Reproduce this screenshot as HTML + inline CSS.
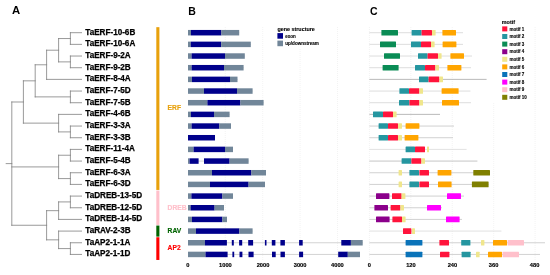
<!DOCTYPE html>
<html lang="en"><head><meta charset="utf-8"><title>Figure</title>
<style>html,body{margin:0;padding:0;background:#fff}body{width:550px;height:275px;overflow:hidden}svg{display:block;font-family:"Liberation Sans",Arial,sans-serif;font-weight:bold}</style></head><body>
<svg width="550" height="275" viewBox="0 0 550 275">
<rect width="550" height="275" fill="#fff"/>
<g stroke="#e0e0e0" stroke-width="0.5" stroke-dasharray="0.8 1.2" fill="none">
<line x1="225.3" y1="27" x2="225.3" y2="260"/>
<line x1="262.7" y1="27" x2="262.7" y2="260"/>
<line x1="300.1" y1="27" x2="300.1" y2="260"/>
<line x1="337.5" y1="27" x2="337.5" y2="260"/>
<line x1="369.4" y1="27" x2="369.4" y2="260"/>
<line x1="410.8" y1="27" x2="410.8" y2="260"/>
<line x1="452.3" y1="27" x2="452.3" y2="260"/>
<line x1="493.7" y1="27" x2="493.7" y2="260"/>
<line x1="535.1" y1="27" x2="535.1" y2="260"/>
</g>
<text x="12" y="13.7" font-size="11.3" fill="#000">A</text>
<text x="188.2" y="14.9" font-size="10.5" fill="#000">B</text>
<text x="369.9" y="14.9" font-size="10.5" fill="#000">C</text>
<g stroke="#808080" stroke-width="0.8" fill="none" stroke-linecap="square">
<line x1="70.40" y1="32.70" x2="81.50" y2="32.70"/>
<line x1="70.40" y1="44.37" x2="81.50" y2="44.37"/>
<line x1="70.40" y1="32.70" x2="70.40" y2="44.37"/>
<line x1="70.40" y1="56.04" x2="81.50" y2="56.04"/>
<line x1="70.40" y1="67.71" x2="81.50" y2="67.71"/>
<line x1="70.40" y1="56.04" x2="70.40" y2="67.71"/>
<line x1="58.60" y1="38.54" x2="58.60" y2="61.88"/>
<line x1="58.60" y1="38.54" x2="70.40" y2="38.54"/>
<line x1="58.60" y1="61.88" x2="70.40" y2="61.88"/>
<line x1="46.60" y1="79.38" x2="81.50" y2="79.38"/>
<line x1="46.60" y1="50.21" x2="46.60" y2="79.38"/>
<line x1="46.60" y1="50.21" x2="58.60" y2="50.21"/>
<line x1="70.40" y1="91.05" x2="81.50" y2="91.05"/>
<line x1="70.40" y1="102.72" x2="81.50" y2="102.72"/>
<line x1="70.40" y1="91.05" x2="70.40" y2="102.72"/>
<line x1="35.20" y1="64.79" x2="35.20" y2="96.89"/>
<line x1="35.20" y1="64.79" x2="46.60" y2="64.79"/>
<line x1="35.20" y1="96.89" x2="70.40" y2="96.89"/>
<line x1="70.40" y1="126.06" x2="81.50" y2="126.06"/>
<line x1="70.40" y1="137.73" x2="81.50" y2="137.73"/>
<line x1="70.40" y1="126.06" x2="70.40" y2="137.73"/>
<line x1="58.60" y1="114.39" x2="81.50" y2="114.39"/>
<line x1="58.60" y1="114.39" x2="58.60" y2="131.90"/>
<line x1="58.60" y1="131.90" x2="70.40" y2="131.90"/>
<line x1="23.40" y1="80.84" x2="23.40" y2="123.14"/>
<line x1="23.40" y1="80.84" x2="35.20" y2="80.84"/>
<line x1="23.40" y1="123.14" x2="58.60" y2="123.14"/>
<line x1="70.40" y1="149.40" x2="81.50" y2="149.40"/>
<line x1="70.40" y1="161.07" x2="81.50" y2="161.07"/>
<line x1="70.40" y1="149.40" x2="70.40" y2="161.07"/>
<line x1="70.40" y1="172.74" x2="81.50" y2="172.74"/>
<line x1="70.40" y1="184.41" x2="81.50" y2="184.41"/>
<line x1="70.40" y1="172.74" x2="70.40" y2="184.41"/>
<line x1="58.60" y1="155.24" x2="58.60" y2="178.58"/>
<line x1="58.60" y1="155.24" x2="70.40" y2="155.24"/>
<line x1="58.60" y1="178.58" x2="70.40" y2="178.58"/>
<line x1="70.40" y1="196.08" x2="81.50" y2="196.08"/>
<line x1="70.40" y1="207.75" x2="81.50" y2="207.75"/>
<line x1="70.40" y1="196.08" x2="70.40" y2="207.75"/>
<line x1="58.60" y1="219.42" x2="81.50" y2="219.42"/>
<line x1="58.60" y1="201.91" x2="58.60" y2="219.42"/>
<line x1="58.60" y1="201.91" x2="70.40" y2="201.91"/>
<line x1="70.40" y1="242.76" x2="81.50" y2="242.76"/>
<line x1="70.40" y1="254.43" x2="81.50" y2="254.43"/>
<line x1="70.40" y1="242.76" x2="70.40" y2="254.43"/>
<line x1="58.60" y1="231.09" x2="81.50" y2="231.09"/>
<line x1="58.60" y1="231.09" x2="58.60" y2="248.59"/>
<line x1="58.60" y1="248.59" x2="70.40" y2="248.59"/>
<line x1="46.60" y1="210.67" x2="46.60" y2="239.84"/>
<line x1="46.60" y1="210.67" x2="58.60" y2="210.67"/>
<line x1="46.60" y1="239.84" x2="58.60" y2="239.84"/>
<line x1="11.80" y1="101.99" x2="11.80" y2="225.25"/>
<line x1="11.80" y1="101.99" x2="23.40" y2="101.99"/>
<line x1="11.80" y1="166.91" x2="58.60" y2="166.91"/>
<line x1="11.80" y1="225.25" x2="46.60" y2="225.25"/>
<line x1="6.20" y1="163.62" x2="11.80" y2="163.62"/>
</g>
<g font-size="8.15" fill="#000" stroke="#000" stroke-width="0.25">
<text x="85.3" y="34.65">TaERF-10-6B</text>
<text x="85.3" y="46.32">TaERF-10-6A</text>
<text x="85.3" y="57.99">TaERF-9-2A</text>
<text x="85.3" y="69.66">TaERF-9-2B</text>
<text x="85.3" y="81.33">TaERF-8-4A</text>
<text x="85.3" y="93.00">TaERF-7-5D</text>
<text x="85.3" y="104.67">TaERF-7-5B</text>
<text x="85.3" y="116.34">TaERF-4-6B</text>
<text x="85.3" y="128.01">TaERF-3-3A</text>
<text x="85.3" y="139.68">TaERF-3-3B</text>
<text x="85.3" y="151.35">TaERF-11-4A</text>
<text x="85.3" y="163.02">TaERF-5-4B</text>
<text x="85.3" y="174.69">TaERF-6-3A</text>
<text x="85.3" y="186.36">TaERF-6-3D</text>
<text x="85.3" y="198.03">TaDREB-13-5D</text>
<text x="85.3" y="209.70">TaDREB-12-5D</text>
<text x="85.3" y="221.37">TaDREB-14-5D</text>
<text x="85.3" y="233.04">TaRAV-2-3B</text>
<text x="85.3" y="244.71">TaAP2-1-1A</text>
<text x="85.3" y="256.38">TaAP2-1-1D</text>
</g>
<rect x="156.3" y="27.17" width="3.1" height="162.78" fill="#E8A10C"/>
<text x="167.6" y="110.36" font-size="6.7" fill="#E8A10C" stroke="#E8A10C" stroke-width="0.15">ERF</text>
<rect x="156.3" y="190.55" width="3.1" height="34.41" fill="#FFC0CB"/>
<text x="167.6" y="209.55" font-size="6.7" fill="#FFC0CB" stroke="#FFC0CB" stroke-width="0.15">DREB</text>
<rect x="156.3" y="225.56" width="3.1" height="11.07" fill="#006400"/>
<text x="167.6" y="232.89" font-size="6.7" fill="#006400" stroke="#006400" stroke-width="0.15">RAV</text>
<rect x="156.3" y="237.23" width="3.1" height="22.74" fill="#FF0000"/>
<text x="167.6" y="250.40" font-size="6.7" fill="#FF0000" stroke="#FF0000" stroke-width="0.15">AP2</text>
<line x1="188" y1="32.70" x2="239.2" y2="32.70" stroke="#b5b5b5" stroke-width="0.6"/>
<rect x="188" y="29.95" width="3.00" height="5.5" fill="#718699"/>
<rect x="191" y="29.95" width="30.40" height="5.5" fill="#00008B"/>
<rect x="221.4" y="29.95" width="17.80" height="5.5" fill="#718699"/>
<line x1="188" y1="44.37" x2="250.8" y2="44.37" stroke="#b5b5b5" stroke-width="0.6"/>
<rect x="188" y="41.62" width="2.80" height="5.5" fill="#718699"/>
<rect x="190.8" y="41.62" width="30.40" height="5.5" fill="#00008B"/>
<rect x="221.2" y="41.62" width="29.60" height="5.5" fill="#718699"/>
<line x1="188" y1="56.04" x2="244.8" y2="56.04" stroke="#b5b5b5" stroke-width="0.6"/>
<rect x="188" y="53.29" width="3.60" height="5.5" fill="#718699"/>
<rect x="191.6" y="53.29" width="33.40" height="5.5" fill="#00008B"/>
<rect x="225" y="53.29" width="19.80" height="5.5" fill="#718699"/>
<line x1="188" y1="67.71" x2="243.6" y2="67.71" stroke="#b5b5b5" stroke-width="0.6"/>
<rect x="188" y="64.96" width="3.60" height="5.5" fill="#718699"/>
<rect x="191.6" y="64.96" width="32.40" height="5.5" fill="#00008B"/>
<rect x="224" y="64.96" width="19.60" height="5.5" fill="#718699"/>
<line x1="188" y1="79.38" x2="237.5" y2="79.38" stroke="#b5b5b5" stroke-width="0.6"/>
<rect x="188" y="76.63" width="4.00" height="5.5" fill="#718699"/>
<rect x="192" y="76.63" width="38.00" height="5.5" fill="#00008B"/>
<rect x="230" y="76.63" width="7.50" height="5.5" fill="#718699"/>
<line x1="188" y1="91.05" x2="252.6" y2="91.05" stroke="#b5b5b5" stroke-width="0.6"/>
<rect x="188" y="88.30" width="16.00" height="5.5" fill="#718699"/>
<rect x="204" y="88.30" width="33.00" height="5.5" fill="#00008B"/>
<rect x="237" y="88.30" width="15.60" height="5.5" fill="#718699"/>
<line x1="188" y1="102.72" x2="263.6" y2="102.72" stroke="#b5b5b5" stroke-width="0.6"/>
<rect x="188" y="99.97" width="19.40" height="5.5" fill="#718699"/>
<rect x="207.4" y="99.97" width="33.00" height="5.5" fill="#00008B"/>
<rect x="240.4" y="99.97" width="23.20" height="5.5" fill="#718699"/>
<line x1="188" y1="114.39" x2="229.6" y2="114.39" stroke="#b5b5b5" stroke-width="0.6"/>
<rect x="188" y="111.64" width="3.00" height="5.5" fill="#718699"/>
<rect x="191" y="111.64" width="23.00" height="5.5" fill="#00008B"/>
<rect x="214" y="111.64" width="15.60" height="5.5" fill="#718699"/>
<line x1="188" y1="126.06" x2="231" y2="126.06" stroke="#b5b5b5" stroke-width="0.6"/>
<rect x="188" y="123.31" width="3.60" height="5.5" fill="#718699"/>
<rect x="191.6" y="123.31" width="27.80" height="5.5" fill="#00008B"/>
<rect x="219.4" y="123.31" width="11.60" height="5.5" fill="#718699"/>
<line x1="188" y1="137.73" x2="215" y2="137.73" stroke="#b5b5b5" stroke-width="0.6"/>
<rect x="188" y="134.98" width="27.00" height="5.5" fill="#00008B"/>
<line x1="188" y1="149.40" x2="233" y2="149.40" stroke="#b5b5b5" stroke-width="0.6"/>
<rect x="188" y="146.65" width="5.60" height="5.5" fill="#718699"/>
<rect x="193.6" y="146.65" width="31.40" height="5.5" fill="#00008B"/>
<rect x="225" y="146.65" width="8.00" height="5.5" fill="#718699"/>
<line x1="188" y1="161.07" x2="248.6" y2="161.07" stroke="#b5b5b5" stroke-width="0.6"/>
<rect x="188" y="158.32" width="1.60" height="5.5" fill="#718699"/>
<rect x="189.6" y="158.32" width="9.00" height="5.5" fill="#00008B"/>
<rect x="204" y="158.32" width="25.60" height="5.5" fill="#00008B"/>
<rect x="229.6" y="158.32" width="19.00" height="5.5" fill="#718699"/>
<line x1="188" y1="172.74" x2="266" y2="172.74" stroke="#b5b5b5" stroke-width="0.6"/>
<rect x="188" y="169.99" width="24.00" height="5.5" fill="#718699"/>
<rect x="212" y="169.99" width="39.40" height="5.5" fill="#00008B"/>
<rect x="251.4" y="169.99" width="14.60" height="5.5" fill="#718699"/>
<line x1="188" y1="184.41" x2="265" y2="184.41" stroke="#b5b5b5" stroke-width="0.6"/>
<rect x="188" y="181.66" width="22.00" height="5.5" fill="#718699"/>
<rect x="210" y="181.66" width="38.60" height="5.5" fill="#00008B"/>
<rect x="248.6" y="181.66" width="16.40" height="5.5" fill="#718699"/>
<line x1="188" y1="196.08" x2="233" y2="196.08" stroke="#b5b5b5" stroke-width="0.6"/>
<rect x="188" y="193.33" width="3.40" height="5.5" fill="#718699"/>
<rect x="191.4" y="193.33" width="31.00" height="5.5" fill="#00008B"/>
<rect x="222.4" y="193.33" width="10.60" height="5.5" fill="#718699"/>
<line x1="188" y1="207.75" x2="224" y2="207.75" stroke="#b5b5b5" stroke-width="0.6"/>
<rect x="188" y="205.00" width="2.60" height="5.5" fill="#718699"/>
<rect x="190.6" y="205.00" width="24.00" height="5.5" fill="#00008B"/>
<rect x="214.6" y="205.00" width="9.40" height="5.5" fill="#718699"/>
<line x1="188" y1="219.42" x2="227" y2="219.42" stroke="#b5b5b5" stroke-width="0.6"/>
<rect x="188" y="216.67" width="4.00" height="5.5" fill="#718699"/>
<rect x="192" y="216.67" width="30.40" height="5.5" fill="#00008B"/>
<rect x="222.4" y="216.67" width="4.60" height="5.5" fill="#718699"/>
<line x1="188" y1="231.09" x2="252.6" y2="231.09" stroke="#b5b5b5" stroke-width="0.6"/>
<rect x="188" y="228.34" width="8.00" height="5.5" fill="#718699"/>
<rect x="196" y="228.34" width="43.40" height="5.5" fill="#00008B"/>
<rect x="239.4" y="228.34" width="13.20" height="5.5" fill="#718699"/>
<line x1="188" y1="242.76" x2="362.7" y2="242.76" stroke="#b5b5b5" stroke-width="0.6"/>
<rect x="188" y="240.01" width="16.90" height="5.5" fill="#718699"/>
<rect x="204.9" y="240.01" width="22.00" height="5.5" fill="#00008B"/>
<rect x="231.8" y="240.01" width="2.00" height="5.5" fill="#00008B"/>
<rect x="239.1" y="240.01" width="3.10" height="5.5" fill="#00008B"/>
<rect x="248.2" y="240.01" width="4.90" height="5.5" fill="#00008B"/>
<rect x="264.9" y="240.01" width="1.60" height="5.5" fill="#00008B"/>
<rect x="271.8" y="240.01" width="3.60" height="5.5" fill="#00008B"/>
<rect x="280.4" y="240.01" width="4.50" height="5.5" fill="#00008B"/>
<rect x="299.1" y="240.01" width="3.60" height="5.5" fill="#00008B"/>
<rect x="341.3" y="240.01" width="9.60" height="5.5" fill="#00008B"/>
<rect x="350.9" y="240.01" width="11.80" height="5.5" fill="#718699"/>
<line x1="188" y1="254.43" x2="360" y2="254.43" stroke="#b5b5b5" stroke-width="0.6"/>
<rect x="188" y="251.68" width="17.50" height="5.5" fill="#718699"/>
<rect x="205.5" y="251.68" width="22.10" height="5.5" fill="#00008B"/>
<rect x="232.4" y="251.68" width="1.80" height="5.5" fill="#00008B"/>
<rect x="239.5" y="251.68" width="2.90" height="5.5" fill="#00008B"/>
<rect x="248.5" y="251.68" width="5.10" height="5.5" fill="#00008B"/>
<rect x="272" y="251.68" width="3.70" height="5.5" fill="#00008B"/>
<rect x="280.5" y="251.68" width="4.40" height="5.5" fill="#00008B"/>
<rect x="299.1" y="251.68" width="4.00" height="5.5" fill="#00008B"/>
<rect x="338.2" y="251.68" width="9.60" height="5.5" fill="#00008B"/>
<rect x="347.8" y="251.68" width="12.20" height="5.5" fill="#718699"/>
<g font-size="5.7" fill="#000" stroke="#000" stroke-width="0.15" text-anchor="middle">
<text x="187.8" y="266.7">0</text>
<text x="225.4" y="266.7">1000</text>
<text x="263.0" y="266.7">2000</text>
<text x="300.1" y="266.7">3000</text>
<text x="337.4" y="266.7">4000</text>
</g>
<rect x="275" y="24" width="47" height="25" fill="#fff"/>
<text x="277.4" y="31.2" font-size="5.4" fill="#000" stroke="#000" stroke-width="0.12">gene structure</text>
<rect x="277.4" y="33.1" width="5.6" height="5.6" fill="#00008B"/>
<rect x="277.4" y="40.6" width="5.6" height="5.6" fill="#718699"/>
<text x="285.3" y="37.6" font-size="4.5" fill="#000" stroke="#000" stroke-width="0.1">exon</text>
<text x="285.3" y="45.2" font-size="4.55" fill="#000" stroke="#000" stroke-width="0.1">up/downstream</text>
<line x1="369.4" y1="32.70" x2="463" y2="32.70" stroke="#cfcfcf" stroke-width="0.7"/>
<rect x="381.4" y="29.90" width="16.60" height="5.6" rx="0.5" fill="#0A8C55"/>
<rect x="411.6" y="29.90" width="10.00" height="5.6" rx="0.5" fill="#2596A0"/>
<rect x="421.6" y="29.90" width="10.40" height="5.6" rx="0.5" fill="#FF143C"/>
<rect x="432" y="29.90" width="3.60" height="5.6" rx="0.5" fill="#F0E68C"/>
<rect x="442.4" y="29.90" width="13.60" height="5.6" rx="0.5" fill="#FFA500"/>
<line x1="369.4" y1="44.37" x2="463" y2="44.37" stroke="#cfcfcf" stroke-width="0.7"/>
<rect x="380" y="41.57" width="16.00" height="5.6" rx="0.5" fill="#0A8C55"/>
<rect x="411" y="41.57" width="10.00" height="5.6" rx="0.5" fill="#2596A0"/>
<rect x="421" y="41.57" width="10.00" height="5.6" rx="0.5" fill="#FF143C"/>
<rect x="431" y="41.57" width="3.60" height="5.6" rx="0.5" fill="#F0E68C"/>
<rect x="442.6" y="41.57" width="13.80" height="5.6" rx="0.5" fill="#FFA500"/>
<line x1="369.4" y1="56.04" x2="472" y2="56.04" stroke="#cfcfcf" stroke-width="0.7"/>
<rect x="384" y="53.24" width="16.00" height="5.6" rx="0.5" fill="#0A8C55"/>
<rect x="418" y="53.24" width="9.60" height="5.6" rx="0.5" fill="#2596A0"/>
<rect x="427.6" y="53.24" width="10.40" height="5.6" rx="0.5" fill="#FF143C"/>
<rect x="438" y="53.24" width="3.60" height="5.6" rx="0.5" fill="#F0E68C"/>
<rect x="450.4" y="53.24" width="13.60" height="5.6" rx="0.5" fill="#FFA500"/>
<line x1="369.4" y1="67.71" x2="471" y2="67.71" stroke="#cfcfcf" stroke-width="0.7"/>
<rect x="382.6" y="64.91" width="16.00" height="5.6" rx="0.5" fill="#0A8C55"/>
<rect x="415" y="64.91" width="10.00" height="5.6" rx="0.5" fill="#2596A0"/>
<rect x="425" y="64.91" width="10.40" height="5.6" rx="0.5" fill="#FF143C"/>
<rect x="435.4" y="64.91" width="3.60" height="5.6" rx="0.5" fill="#F0E68C"/>
<rect x="447.4" y="64.91" width="14.00" height="5.6" rx="0.5" fill="#FFA500"/>
<line x1="369.4" y1="79.38" x2="486.6" y2="79.38" stroke="#9c9c9c" stroke-width="0.7"/>
<rect x="419" y="76.58" width="9.60" height="5.6" rx="0.5" fill="#2596A0"/>
<rect x="428.6" y="76.58" width="10.80" height="5.6" rx="0.5" fill="#FF143C"/>
<rect x="439.4" y="76.58" width="3.60" height="5.6" rx="0.5" fill="#F0E68C"/>
<line x1="369.4" y1="91.05" x2="470.4" y2="91.05" stroke="#cfcfcf" stroke-width="0.7"/>
<rect x="399.4" y="88.25" width="9.60" height="5.6" rx="0.5" fill="#2596A0"/>
<rect x="409" y="88.25" width="10.40" height="5.6" rx="0.5" fill="#FF143C"/>
<rect x="419.4" y="88.25" width="3.60" height="5.6" rx="0.5" fill="#F0E68C"/>
<rect x="441.6" y="88.25" width="17.00" height="5.6" rx="0.5" fill="#FFA500"/>
<line x1="369.4" y1="102.72" x2="471" y2="102.72" stroke="#cfcfcf" stroke-width="0.7"/>
<rect x="399" y="99.92" width="10.40" height="5.6" rx="0.5" fill="#2596A0"/>
<rect x="409.4" y="99.92" width="10.00" height="5.6" rx="0.5" fill="#FF143C"/>
<rect x="419.4" y="99.92" width="3.60" height="5.6" rx="0.5" fill="#F0E68C"/>
<rect x="442" y="99.92" width="17.00" height="5.6" rx="0.5" fill="#FFA500"/>
<line x1="369.4" y1="114.39" x2="440" y2="114.39" stroke="#9c9c9c" stroke-width="0.7"/>
<rect x="373" y="111.59" width="10.00" height="5.6" rx="0.5" fill="#2596A0"/>
<rect x="383" y="111.59" width="10.00" height="5.6" rx="0.5" fill="#FF143C"/>
<rect x="393" y="111.59" width="3.60" height="5.6" rx="0.5" fill="#F0E68C"/>
<line x1="369.4" y1="126.06" x2="454" y2="126.06" stroke="#bdbdbd" stroke-width="0.7"/>
<rect x="378.6" y="123.26" width="9.40" height="5.6" rx="0.5" fill="#2596A0"/>
<rect x="388" y="123.26" width="10.00" height="5.6" rx="0.5" fill="#FF143C"/>
<rect x="398" y="123.26" width="4.00" height="5.6" rx="0.5" fill="#F0E68C"/>
<rect x="405.6" y="123.26" width="13.80" height="5.6" rx="0.5" fill="#FFA500"/>
<line x1="369.4" y1="137.73" x2="453" y2="137.73" stroke="#bdbdbd" stroke-width="0.7"/>
<rect x="378.6" y="134.93" width="9.40" height="5.6" rx="0.5" fill="#2596A0"/>
<rect x="388" y="134.93" width="10.00" height="5.6" rx="0.5" fill="#FF143C"/>
<rect x="398" y="134.93" width="4.00" height="5.6" rx="0.5" fill="#F0E68C"/>
<rect x="404.6" y="134.93" width="13.80" height="5.6" rx="0.5" fill="#FFA500"/>
<line x1="369.4" y1="149.40" x2="466.6" y2="149.40" stroke="#d6d6d6" stroke-width="0.7"/>
<rect x="405.6" y="146.60" width="9.40" height="5.6" rx="0.5" fill="#2596A0"/>
<rect x="415" y="146.60" width="10.00" height="5.6" rx="0.5" fill="#FF143C"/>
<rect x="427" y="146.60" width="2.00" height="5.6" rx="0.5" fill="#F0E68C"/>
<line x1="369.4" y1="161.07" x2="477.4" y2="161.07" stroke="#aaaaaa" stroke-width="0.7"/>
<rect x="401.6" y="158.27" width="9.80" height="5.6" rx="0.5" fill="#2596A0"/>
<rect x="411.4" y="158.27" width="10.00" height="5.6" rx="0.5" fill="#FF143C"/>
<rect x="421.4" y="158.27" width="3.60" height="5.6" rx="0.5" fill="#F0E68C"/>
<line x1="369.4" y1="172.74" x2="490" y2="172.74" stroke="#bdbdbd" stroke-width="0.7"/>
<rect x="398.6" y="169.94" width="3.40" height="5.6" rx="0.5" fill="#F0E68C"/>
<rect x="409.4" y="169.94" width="9.60" height="5.6" rx="0.5" fill="#2596A0"/>
<rect x="419.4" y="169.94" width="9.60" height="5.6" rx="0.5" fill="#FF143C"/>
<rect x="437.6" y="169.94" width="13.80" height="5.6" rx="0.5" fill="#FFA500"/>
<rect x="473.3" y="169.94" width="16.70" height="5.6" rx="0.5" fill="#808000"/>
<line x1="369.4" y1="184.41" x2="488.6" y2="184.41" stroke="#bdbdbd" stroke-width="0.7"/>
<rect x="398.6" y="181.61" width="3.40" height="5.6" rx="0.5" fill="#F0E68C"/>
<rect x="409.4" y="181.61" width="9.60" height="5.6" rx="0.5" fill="#2596A0"/>
<rect x="419.4" y="181.61" width="9.60" height="5.6" rx="0.5" fill="#FF143C"/>
<rect x="438" y="181.61" width="13.60" height="5.6" rx="0.5" fill="#FFA500"/>
<rect x="471.9" y="181.61" width="16.70" height="5.6" rx="0.5" fill="#808000"/>
<line x1="369.4" y1="196.08" x2="464" y2="196.08" stroke="#bdbdbd" stroke-width="0.7"/>
<rect x="376" y="193.28" width="13.40" height="5.6" rx="0.5" fill="#8B008B"/>
<rect x="392" y="193.28" width="9.60" height="5.6" rx="0.5" fill="#FF143C"/>
<rect x="401.6" y="193.28" width="3.80" height="5.6" rx="0.5" fill="#F0E68C"/>
<rect x="447" y="193.28" width="14.00" height="5.6" rx="0.5" fill="#FF00FF"/>
<line x1="369.4" y1="207.75" x2="442" y2="207.75" stroke="#bdbdbd" stroke-width="0.7"/>
<rect x="374.4" y="204.95" width="13.60" height="5.6" rx="0.5" fill="#8B008B"/>
<rect x="390.6" y="204.95" width="9.80" height="5.6" rx="0.5" fill="#FF143C"/>
<rect x="400.4" y="204.95" width="3.60" height="5.6" rx="0.5" fill="#F0E68C"/>
<rect x="427" y="204.95" width="14.00" height="5.6" rx="0.5" fill="#FF00FF"/>
<line x1="369.4" y1="219.42" x2="462" y2="219.42" stroke="#bdbdbd" stroke-width="0.7"/>
<rect x="376" y="216.62" width="13.60" height="5.6" rx="0.5" fill="#8B008B"/>
<rect x="392.4" y="216.62" width="9.60" height="5.6" rx="0.5" fill="#FF143C"/>
<rect x="402" y="216.62" width="3.60" height="5.6" rx="0.5" fill="#F0E68C"/>
<rect x="446" y="216.62" width="13.60" height="5.6" rx="0.5" fill="#FF00FF"/>
<line x1="369.4" y1="231.09" x2="501.4" y2="231.09" stroke="#d6d6d6" stroke-width="0.7"/>
<rect x="403" y="228.29" width="8.40" height="5.6" rx="0.5" fill="#FF143C"/>
<rect x="412" y="228.29" width="3.00" height="5.6" rx="0.5" fill="#F0E68C"/>
<line x1="369.4" y1="242.76" x2="545" y2="242.76" stroke="#bdbdbd" stroke-width="0.7"/>
<rect x="405.6" y="239.96" width="16.80" height="5.6" rx="0.5" fill="#0A73B9"/>
<rect x="439.4" y="239.96" width="9.60" height="5.6" rx="0.5" fill="#FF143C"/>
<rect x="461.2" y="239.96" width="9.20" height="5.6" rx="0.5" fill="#2596A0"/>
<rect x="481" y="239.96" width="3.40" height="5.6" rx="0.5" fill="#F0E68C"/>
<rect x="493" y="239.96" width="14.00" height="5.6" rx="0.5" fill="#FFA500"/>
<rect x="507.6" y="239.96" width="16.40" height="5.6" rx="0.5" fill="#FFC0CB"/>
<line x1="369.4" y1="254.43" x2="540" y2="254.43" stroke="#bdbdbd" stroke-width="0.7"/>
<rect x="405.6" y="251.63" width="16.80" height="5.6" rx="0.5" fill="#0A73B9"/>
<rect x="440" y="251.63" width="9.40" height="5.6" rx="0.5" fill="#FF143C"/>
<rect x="461.6" y="251.63" width="9.00" height="5.6" rx="0.5" fill="#2596A0"/>
<rect x="476" y="251.63" width="3.60" height="5.6" rx="0.5" fill="#F0E68C"/>
<rect x="488" y="251.63" width="14.00" height="5.6" rx="0.5" fill="#FFA500"/>
<rect x="502.6" y="251.63" width="16.40" height="5.6" rx="0.5" fill="#FFC0CB"/>
<g font-size="5.7" fill="#000" stroke="#000" stroke-width="0.15" text-anchor="middle">
<text x="369.4" y="266.8">0</text>
<text x="410.9" y="266.8">120</text>
<text x="452.4" y="266.8">240</text>
<text x="493.6" y="266.8">360</text>
<text x="534.6" y="266.8">480</text>
</g>
<rect x="489" y="17" width="42" height="86" fill="#fff"/>
<text x="501.8" y="24" font-size="5.4" fill="#000" stroke="#000" stroke-width="0.12">motif</text>
<rect x="502.2" y="26.40" width="5.1" height="5" fill="#FF143C"/>
<text x="509.5" y="30.50" font-size="4.5" fill="#000" stroke="#000" stroke-width="0.1">motif 1</text>
<rect x="502.2" y="34.00" width="5.1" height="5" fill="#2596A0"/>
<text x="509.5" y="38.10" font-size="4.5" fill="#000" stroke="#000" stroke-width="0.1">motif 2</text>
<rect x="502.2" y="41.60" width="5.1" height="5" fill="#0A8C55"/>
<text x="509.5" y="45.70" font-size="4.5" fill="#000" stroke="#000" stroke-width="0.1">motif 3</text>
<rect x="502.2" y="49.20" width="5.1" height="5" fill="#8B008B"/>
<text x="509.5" y="53.30" font-size="4.5" fill="#000" stroke="#000" stroke-width="0.1">motif 4</text>
<rect x="502.2" y="56.80" width="5.1" height="5" fill="#F0E68C"/>
<text x="509.5" y="60.90" font-size="4.5" fill="#000" stroke="#000" stroke-width="0.1">motif 5</text>
<rect x="502.2" y="64.40" width="5.1" height="5" fill="#FFA500"/>
<text x="509.5" y="68.50" font-size="4.5" fill="#000" stroke="#000" stroke-width="0.1">motif 6</text>
<rect x="502.2" y="72.00" width="5.1" height="5" fill="#0A73B9"/>
<text x="509.5" y="76.10" font-size="4.5" fill="#000" stroke="#000" stroke-width="0.1">motif 7</text>
<rect x="502.2" y="79.60" width="5.1" height="5" fill="#FF00FF"/>
<text x="509.5" y="83.70" font-size="4.5" fill="#000" stroke="#000" stroke-width="0.1">motif 8</text>
<rect x="502.2" y="87.20" width="5.1" height="5" fill="#FFC0CB"/>
<text x="509.5" y="91.30" font-size="4.5" fill="#000" stroke="#000" stroke-width="0.1">motif 9</text>
<rect x="502.2" y="94.80" width="5.1" height="5" fill="#808000"/>
<text x="509.5" y="98.90" font-size="4.5" fill="#000" stroke="#000" stroke-width="0.1">motif 10</text>
</svg></body></html>
